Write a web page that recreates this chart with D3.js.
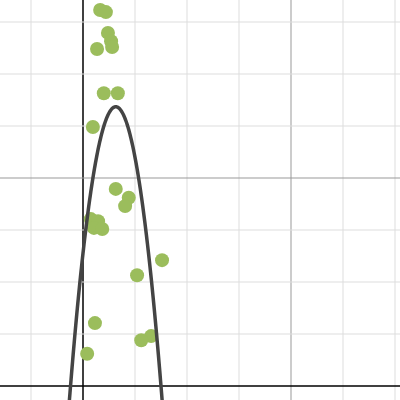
<!DOCTYPE html>
<html><head><meta charset="utf-8">
<script src="https://cdn.jsdelivr.net/npm/d3@7"></script>
<style>body{margin:0;background:#fff}</style></head>
<body><svg id="c" width="400" height="400"></svg>
<script>
// scatter points
const xs = [0.33,0.44,0.48,0.54,0.56,0.27,0.40,0.67,0.19,0.63,0.88,0.81,0.15,0.29,0.21,0.37,1.52,1.04,0.23,1.31,1.12,0.08];
const ys = [7.23,7.19,6.79,6.63,6.52,6.48,5.63,5.63,4.98,3.79,3.62,3.46,3.21,3.17,3.04,3.02,2.42,2.13,1.21,0.96,0.88,0.62];
// fitted parabola y = a (x - h)^2 + k
const a = -7.1, h = 0.63, k = 5.37;

const svg = d3.select("#c");
const x = d3.scaleLinear().domain([-83/52, 317/52]).range([0, 400]);
const y = d3.scaleLinear().domain([-14/52, 386/52]).range([400, 0]);

d3.range(-1, 7).forEach(v => {
  svg.append("line").attr("x1", x(v)).attr("x2", x(v)).attr("y1", 0).attr("y2", 400)
    .attr("stroke", v === 0 ? "#000" : (v % 4 === 0 ? "#999" : "#ddd")).attr("stroke-width", v === 0 ? 1.5 : 1);
});
d3.range(0, 8).forEach(v => {
  svg.append("line").attr("y1", y(v)).attr("y2", y(v)).attr("x1", 0).attr("x2", 400)
    .attr("stroke", v === 0 ? "#000" : (v % 4 === 0 ? "#999" : "#ddd")).attr("stroke-width", v === 0 ? 1.5 : 1);
});

svg.selectAll("circle").data(xs).enter().append("circle")
  .attr("cx", d => x(d)).attr("cy", (d, i) => y(ys[i])).attr("r", 7)
  .attr("fill", "#9bbd5c");

const curve = d3.range(-0.4, 1.62, 0.01).map(t => [t, a * (t - h) ** 2 + k]);
svg.append("path").datum(curve)
  .attr("d", d3.line().x(d => x(d[0])).y(d => y(d[1])))
  .attr("fill", "none").attr("stroke", "#444").attr("stroke-width", 3.5);
</script></body></html>
